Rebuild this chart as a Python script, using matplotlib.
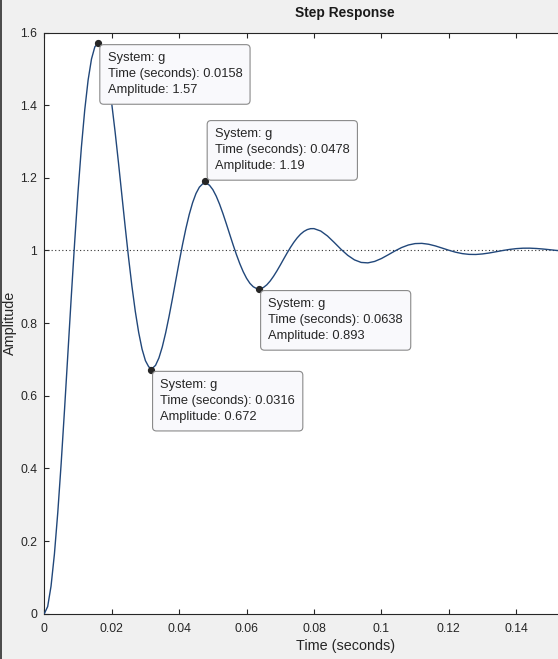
import matplotlib
matplotlib.use('Agg')
import matplotlib.pyplot as plt
from matplotlib.lines import Line2D

# ---- data ----
time_s = [0.000, 0.001, 0.002, 0.003, 0.004, 0.005, 0.006, 0.007, 0.008, 0.009,
          0.010, 0.011, 0.012, 0.013, 0.014, 0.015, 0.016, 0.017, 0.018, 0.019,
          0.020, 0.021, 0.022, 0.023, 0.024, 0.025, 0.026, 0.027, 0.028, 0.029,
          0.030, 0.031, 0.032, 0.033, 0.034, 0.035, 0.036, 0.037, 0.038, 0.039,
          0.040, 0.041, 0.042, 0.043, 0.044, 0.045, 0.046, 0.047, 0.048, 0.049,
          0.050, 0.051, 0.052, 0.053, 0.054, 0.055, 0.056, 0.057, 0.058, 0.059,
          0.060, 0.061, 0.062, 0.063, 0.064, 0.065, 0.066, 0.067, 0.068, 0.069,
          0.070, 0.071, 0.072, 0.073, 0.074, 0.075, 0.076, 0.077, 0.078, 0.079,
          0.080, 0.082, 0.084, 0.086, 0.088, 0.090, 0.092, 0.094, 0.096, 0.098,
          0.100, 0.102, 0.104, 0.106, 0.108, 0.110, 0.112, 0.114, 0.116, 0.118,
          0.120, 0.122, 0.124, 0.126, 0.128, 0.130, 0.132, 0.134, 0.136, 0.138,
          0.140, 0.142, 0.144, 0.146, 0.148, 0.150, 0.152, 0.154, 0.156]
amplitude = [0.0000, 0.0196, 0.0759, 0.1641, 0.2787, 0.4133, 0.5616, 0.7167, 0.8722, 1.0220,
             1.1608, 1.2837, 1.3872, 1.4692, 1.5271, 1.5607, 1.5702, 1.5569, 1.5231, 1.4712,
             1.4046, 1.3269, 1.2419, 1.1532, 1.0647, 0.9797, 0.9013, 0.8320, 0.7741, 0.7284,
             0.6966, 0.6792, 0.6750, 0.6837, 0.7040, 0.7344, 0.7731, 0.8179, 0.8666, 0.9173,
             0.9677, 1.0159, 1.0602, 1.0992, 1.1316, 1.1568, 1.1742, 1.1835, 1.1852, 1.1796,
             1.1674, 1.1496, 1.1272, 1.1014, 1.0734, 1.0445, 1.0158, 0.9885, 0.9635, 0.9416,
             0.9234, 0.9094, 0.9000, 0.8950, 0.8945, 0.8980, 0.9053, 0.9158, 0.9288, 0.9436,
             0.9596, 0.9762, 0.9925, 1.0080, 1.0221, 1.0344, 1.0446, 1.0523, 1.0574, 1.0600,
             1.0601, 1.0535, 1.0399, 1.0221, 1.0034, 0.9867, 0.9741, 0.9670, 0.9658, 0.9698,
             0.9777, 0.9879, 0.9985, 1.0080, 1.0150, 1.0189, 1.0195, 1.0171, 1.0125, 1.0066,
             1.0006, 0.9952, 0.9913, 0.9892, 0.9889, 0.9904, 0.9930, 0.9964, 0.9998, 1.0028,
             1.0050, 1.0062, 1.0063, 1.0054, 1.0039, 1.0020, 1.0000, 0.9983, 0.9971]
final_value = 1.0

tip_times = [0.0158, 0.0478, 0.0638, 0.0316]
tip_amps = [1.57, 1.19, 0.893, 0.672]
tip_time_labels = ['0.0158', '0.0478', '0.0638', '0.0316']
tip_amp_labels = ['1.57', '1.19', '0.893', '0.672']
system_name = 'g'

x_ticks = [0, 0.02, 0.04, 0.06, 0.08, 0.1, 0.12, 0.14]
x_tick_labels = ['0', '0.02', '0.04', '0.06', '0.08', '0.1', '0.12', '0.14']
y_ticks = [0, 0.2, 0.4, 0.6, 0.8, 1.0, 1.2, 1.4, 1.6]
y_tick_labels = ['0', '0.2', '0.4', '0.6', '0.8', '1', '1.2', '1.4', '1.6']

# ---- figure ----
plt.rcParams['font.family'] = ['Liberation Sans', 'DejaVu Sans']
W, H = 558, 659
fig = plt.figure(figsize=(W / 100, H / 100), dpi=100, facecolor='#f0f0f0')

ax_left, ax_right, ax_top, ax_bottom = 44.3, 646.0, 32.5, 613.7
ax = fig.add_axes([ax_left / W, 1 - ax_bottom / H,
                   (ax_right - ax_left) / W, (ax_bottom - ax_top) / H])
ax.set_facecolor('white')

ax.plot(time_s, amplitude, color='#21477a', lw=1.0, zorder=3)
ax.axhline(final_value, color='#333333', ls=(0, (1, 2.2)), lw=0.8, zorder=2)

ax.set_xlim(0, 0.1785)
ax.set_ylim(0, 1.6)
ax.set_xticks(x_ticks)
ax.set_xticklabels(x_tick_labels)
ax.set_yticks(y_ticks)
ax.set_yticklabels(y_tick_labels)

spine_col = '#262626'
for s in ['left', 'bottom', 'top']:
    ax.spines[s].set_color(spine_col)
    ax.spines[s].set_linewidth(0.8)
ax.spines['right'].set_visible(False)
ax.tick_params(axis='both', direction='in', length=3.6, width=0.8,
               colors=spine_col, labelsize=8.8)
ax.tick_params(axis='x', top=True, pad=6.5)
ax.tick_params(axis='y', right=False, pad=5)

ax.set_xlabel('Time (seconds)', fontsize=10.4, color=spine_col)
ax.xaxis.set_label_coords(0.5, -(646 - ax_bottom) / (ax_bottom - ax_top))
ax.xaxis.label.set_va('center')
ax.set_ylabel('Amplitude', fontsize=10.4, color=spine_col)
ax.yaxis.set_label_coords(-(ax_left - 10) / (ax_right - ax_left), 0.5)
ax.yaxis.label.set_va('center')

ax.text(0.5, 1 + (ax_top - 13) / (ax_bottom - ax_top), 'Step Response',
        transform=ax.transAxes, ha='center', va='center',
        fontsize=9.9, fontweight='bold', color='#1a1a1a')

# data tips
offsets = [((10, -9), 'top'), ((9.5, 9), 'bottom'), ((9, -9), 'top'), ((9.5, -9.5), 'top')]
for t, a, tl, al, (off, va) in zip(tip_times, tip_amps, tip_time_labels,
                                    tip_amp_labels, offsets):
    ax.plot([t], [a], 'o', ms=4.2, color='#262626', zorder=5)
    txt = f'System: {system_name}\nTime (seconds): {tl}\nAmplitude: {al}'
    ax.annotate(txt, xy=(t, a), xytext=off, textcoords='offset pixels',
                ha='left', va=va, fontsize=9.3, color='#262626', linespacing=1.45,
                zorder=6,
                bbox=dict(boxstyle='round,pad=0.6,rounding_size=0.3',
                          fc='#f9f9fc', ec='#8a8a8a', lw=0.8))

# dark frame line at the left edge of the screenshot
fig.add_artist(Line2D([0.0012, 0.0012], [0, 1], transform=fig.transFigure,
                      color='#3c3c3c', lw=1.3))

fig.savefig('out.png', dpi=100, facecolor=fig.get_facecolor())
